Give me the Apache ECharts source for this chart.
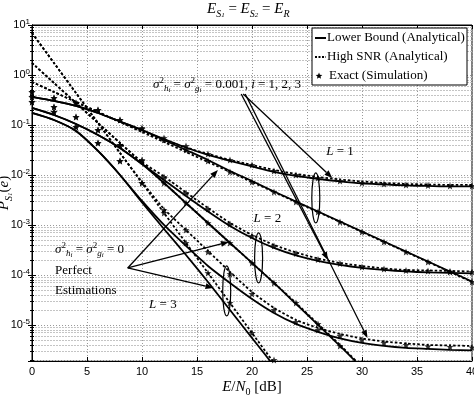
<!DOCTYPE html>
<html>
<head>
<meta charset="utf-8">
<script src="https://cdn.jsdelivr.net/npm/echarts@6/dist/echarts.min.js"></script>
<style>
  html, body { margin: 0; padding: 0; background: #fff; }
  #chart { width: 474px; height: 397px; }
</style>
</head>
<body>
<div id="chart"></div>
<script>
// E/N0 in dB, simulation points every 2 dB
const snr = [0, 2, 4, 6, 8, 10, 12, 14, 16, 18, 20, 22, 24, 26, 28, 30, 32, 34, 36, 38, 40];

// every curve below is log10 of P_S1(e)
// L = 1
const lb1Perfect   = [-0.44, -0.52, -0.62, -0.76, -0.93, -1.1, -1.3, -1.5, -1.7, -1.92, -2.12, -2.33, -2.53, -2.73, -2.93, -3.13, -3.33, -3.53, -3.73, -3.93, -4.13];
const lb1Imperfect = [-0.44, -0.52, -0.62, -0.76, -0.93, -1.1, -1.28, -1.45, -1.6, -1.72, -1.83, -1.94, -2.02, -2.08, -2.13, -2.17, -2.19, -2.21, -2.22, -2.23, -2.23];
const hs1Perfect   = [-0.14, -0.34, -0.54, -0.74, -0.94, -1.14, -1.34, -1.54, -1.74, -1.94, -2.14, -2.34, -2.54, -2.74, -2.94, -3.14, -3.34, -3.54, -3.74, -3.94, -4.14];
const hs1Imperfect = [-0.14, -0.34, -0.54, -0.74, -0.94, -1.13, -1.3, -1.45, -1.58, -1.7, -1.8, -1.9, -1.98, -2.04, -2.09, -2.13, -2.16, -2.18, -2.19, -2.2, -2.2];
const ex1Perfect   = [-0.34, -0.46, -0.56, -0.7, -0.9, -1.08, -1.3, -1.5, -1.72, -1.94, -2.14, -2.34, -2.54, -2.74, -2.94, -3.14, -3.34, -3.54, -3.74, -3.94, -4.14];
const ex1Imperfect = [-0.34, -0.46, -0.56, -0.7, -0.9, -1.06, -1.26, -1.42, -1.58, -1.7, -1.8, -1.92, -2.0, -2.06, -2.12, -2.16, -2.18, -2.2, -2.21, -2.22, -2.22];
// L = 2
const lb2Perfect   = [-0.66, -0.8, -0.98, -1.2, -1.46, -1.78, -2.16, -2.56, -2.96, -3.36, -3.76, -4.16, -4.58, -5.0, -5.42, -5.86];
const lb2Imperfect = [-0.66, -0.8, -0.98, -1.2, -1.46, -1.78, -2.1, -2.42, -2.73, -3.02, -3.26, -3.46, -3.61, -3.72, -3.8, -3.86, -3.9, -3.93, -3.95, -3.96, -3.97];
const hs2Perfect   = [0.24, -0.16, -0.56, -0.96, -1.36, -1.76, -2.16, -2.56, -2.96, -3.36, -3.76, -4.16, -4.56, -4.98, -5.4, -5.84];
const hs2Imperfect = [0.24, -0.16, -0.56, -0.96, -1.36, -1.74, -2.03, -2.35, -2.66, -2.96, -3.2, -3.4, -3.55, -3.67, -3.76, -3.82, -3.87, -3.9, -3.91, -3.92, -3.93];
const ex2Perfect   = [-0.44, -0.64, -0.84, -1.1, -1.4, -1.72, -2.16, -2.56, -2.96, -3.36, -3.76, -4.16, -4.56, -4.98, -5.42];
const ex2Imperfect = [-0.44, -0.64, -0.84, -1.1, -1.4, -1.7, -2.04, -2.36, -2.68, -2.98, -3.22, -3.42, -3.57, -3.69, -3.77, -3.84, -3.88, -3.91, -3.92, -3.93, -3.94];
// L = 3
const lb3Perfect   = [-0.76, -0.9, -1.12, -1.52, -2.0, -2.55, -3.08, -3.6, -4.14, -4.7, -5.26, -5.82];
const lb3Imperfect = [-0.76, -0.9, -1.12, -1.52, -2.0, -2.52, -3.0, -3.42, -3.82, -4.16, -4.48, -4.76, -4.98, -5.14, -5.27, -5.36, -5.42, -5.46, -5.48, -5.5, -5.51];
const hs3Perfect   = [0.84, 0.24, -0.36, -0.96, -1.56, -2.16, -2.76, -3.36, -3.96, -4.56, -5.16, -5.76];
const hs3Imperfect = [0.84, 0.24, -0.36, -0.96, -1.56, -2.14, -2.68, -3.1, -3.52, -3.94, -4.34, -4.66, -4.9, -5.06, -5.18, -5.27, -5.33, -5.37, -5.4, -5.41, -5.42];
const ex3Perfect   = [-0.54, -0.74, -1.04, -1.36, -1.72, -2.16, -2.76, -3.36, -3.96, -4.56, -5.16, -5.7];
const ex3Imperfect = [-0.54, -0.74, -1.04, -1.36, -1.72, -2.16, -2.7, -3.1, -3.54, -3.98, -4.38, -4.7, -4.94, -5.1, -5.22, -5.3, -5.36, -5.4, -5.43, -5.44, -5.45];

// axes
const xTicks = [0, 5, 10, 15, 20, 25, 30, 35, 40];
const yMin = 1.9e-6;
const yMax = 10;

// annotation anchors, [dB, log10 P]
const imperfectFrom = [19.2, -0.38];
const imperfectTips = [[27.3, -2.06], [26.9, -3.7], [30.5, -5.26]];
const perfectFrom = [8.7, -3.86];
const perfectTips = [[16.9, -1.9], [17.9, -3.34], [16.5, -4.26]];
const diversityRings = [[25.8, -2.46], [20.6, -3.66], [17.7, -4.32]];
const diversityLabels = [['1', 28.0, -1.54], ['2', 21.4, -2.88], ['3', 11.9, -4.6]];

const serif = 'Liberation Serif';
const sans = 'Liberation Sans';
const starPath = 'path://M0,-10L2.65,-3.64L9.51,-3.09L4.28,1.39L5.88,8.09L0,4.5L-5.88,8.09L-4.28,1.39L-9.51,-3.09L-2.65,-3.64Z';

const toP = v => Math.pow(10, v);
const pts = arr => arr.map((v, i) => [snr[i], toP(v)]);

const chart = echarts.init(document.getElementById('chart'));

// rich text pieces for the math labels
const mathRich = {
  m: { fontFamily: serif, fontStyle: 'italic', fontWeight: 'normal', fontSize: 13, lineHeight: 17, color: '#000' },
  r: { fontFamily: serif, fontWeight: 'normal', fontSize: 13, lineHeight: 17, color: '#000' },
  sp: { fontFamily: serif, fontWeight: 'normal', fontSize: 9, lineHeight: 10, verticalAlign: 'top', color: '#000' },
  sb: { fontFamily: serif, fontStyle: 'italic', fontWeight: 'normal', fontSize: 9, lineHeight: 10, verticalAlign: 'bottom', color: '#000' },
  ssb: { fontFamily: serif, fontStyle: 'italic', fontWeight: 'normal', fontSize: 7, lineHeight: 7, verticalAlign: 'bottom', color: '#000' },
  sbr: { fontFamily: serif, fontWeight: 'normal', fontSize: 9, lineHeight: 10, verticalAlign: 'bottom', color: '#000' }
};
// same pieces, a size up, for title and axis names
const bigRich = {
  m: Object.assign({}, mathRich.m, { fontSize: 15, lineHeight: 19 }),
  r: Object.assign({}, mathRich.r, { fontSize: 15, lineHeight: 19 }),
  sb: Object.assign({}, mathRich.sb, { fontSize: 10, lineHeight: 11 }),
  sbr: Object.assign({}, mathRich.sbr, { fontSize: 10, lineHeight: 11 }),
  ssb: mathRich.ssb
};

const solid = (data) => ({
  type: 'line',
  name: 'Lower Bound (Analytical)',
  data: pts(data),
  symbol: 'none',
  smooth: 0.2,
  lineStyle: { color: '#000', width: 1.8 },
  z: 3
});
const dashed = (data) => ({
  type: 'line',
  name: 'High SNR (Analytical)',
  data: pts(data),
  symbol: 'none',
  smooth: 0.2,
  lineStyle: { color: '#000', width: 1.8, type: [2.5, 2] },
  z: 4
});
const stars = (data) => ({
  type: 'scatter',
  name: 'Exact (Simulation)',
  data: pts(data),
  symbol: starPath,
  symbolSize: 7,
  itemStyle: { color: '#000' },
  z: 5
});

const gridLine = { show: true, lineStyle: { color: '#9a9a9a', width: 1, type: [1, 2] } };

chart.setOption({
  animation: false,
  backgroundColor: '#fff',
  title: {
    text: '{m|E}{sb|S}{ssb|1}{r| = }{m|E}{sb|S}{ssb|2}{r| = }{m|E}{sb|R}',
    left: 207,
    top: 0,
    padding: 0,
    textStyle: { fontWeight: 'normal', fontSize: 15, rich: bigRich }
  },
  grid: { left: 32, right: 2, top: 25, bottom: 36, outerBoundsMode: 'none', show: true, borderColor: '#000', borderWidth: 1 },
  xAxis: [{
    type: 'value',
    min: xTicks[0],
    max: xTicks[xTicks.length - 1],
    interval: 5,
    axisLine: { lineStyle: { color: '#000', width: 1 } },
    axisTick: { inside: true, length: 4, lineStyle: { color: '#000' } },
    axisLabel: { color: '#000', fontFamily: sans, fontSize: 11, margin: 5 },
    splitLine: gridLine,
    name: '{m|E}{r|/}{m|N}{sbr|0}{r| [dB]}',
    nameLocation: 'middle',
    nameGap: 17,
    nameMoveOverlap: false,
    nameTextStyle: { rich: bigRich, verticalAlign: 'top' }
  }, {
    type: 'value',
    position: 'top',
    min: xTicks[0],
    max: xTicks[xTicks.length - 1],
    interval: 5,
    axisLine: { lineStyle: { color: '#000', width: 1 } },
    axisTick: { inside: true, length: 4, lineStyle: { color: '#000' } },
    axisLabel: { show: false },
    splitLine: { show: false }
  }],
  yAxis: [{
    type: 'log',
    logBase: 10,
    min: yMin,
    max: yMax,
    axisLine: { show: true, lineStyle: { color: '#000', width: 1 } },
    axisTick: { show: true, inside: true, length: 4, lineStyle: { color: '#000' } },
    minorTick: { show: true, splitNumber: 9, length: 2, lineStyle: { color: '#000' } },
    splitLine: gridLine,
    minorSplitLine: { show: true, lineStyle: { color: '#c4c4c4', width: 1, type: [2, 1] } },
    axisLabel: {
      margin: 2,
      color: '#000',
      showMinLabel: false,
      formatter: (v) => {
        const e = Math.log10(v);
        const r = Math.round(e);
        if (Math.abs(e - r) > 1e-6) return '';
        return '{b|10}{e|' + r + '}';
      },
      rich: {
        b: { fontFamily: sans, fontSize: 11, lineHeight: 14, color: '#000' },
        e: { fontFamily: sans, fontSize: 8, lineHeight: 8, verticalAlign: 'top', color: '#000' }
      }
    },
    name: '{m|P}{sb|S}{ssb|1}{r|(}{m|e}{r|)}',
    nameLocation: 'middle',
    nameGap: 18,
    nameMoveOverlap: false,
    nameTextStyle: { rich: bigRich }
  }, {
    type: 'log',
    logBase: 10,
    min: yMin,
    max: yMax,
    position: 'right',
    axisLine: { show: true, lineStyle: { color: '#000', width: 1 } },
    axisTick: { show: true, inside: true, length: 4, lineStyle: { color: '#000' } },
    minorTick: { show: true, splitNumber: 9, length: 2, lineStyle: { color: '#000' } },
    axisLabel: { show: false },
    splitLine: { show: false }
  }],
  series: [
    solid(lb1Perfect), solid(lb1Imperfect), solid(lb2Perfect), solid(lb2Imperfect), solid(lb3Perfect), solid(lb3Imperfect),
    dashed(hs1Perfect), dashed(hs1Imperfect), dashed(hs2Perfect), dashed(hs2Imperfect), dashed(hs3Perfect), dashed(hs3Imperfect),
    stars(ex1Perfect), stars(ex1Imperfect), stars(ex2Perfect), stars(ex2Imperfect), stars(ex3Perfect), stars(ex3Imperfect)
  ]
});

// annotations, placed through the axes
const px = (p) => chart.convertToPixel({ xAxisIndex: 0, yAxisIndex: 0 }, [p[0], toP(p[1])]);

function arrow(from, to, dx) {
  const a = px(from), b = px(to);
  a[0] += dx || 0;
  const ang = Math.atan2(b[1] - a[1], b[0] - a[0]);
  const len = 8, half = 3;
  const bx = b[0] - len * Math.cos(ang), by = b[1] - len * Math.sin(ang);
  const nx = -Math.sin(ang) * half, ny = Math.cos(ang) * half;
  return [
    { type: 'line', silent: true, z: 10, shape: { x1: a[0], y1: a[1], x2: bx, y2: by }, style: { stroke: '#000', lineWidth: 1.3 } },
    { type: 'polygon', silent: true, z: 10, shape: { points: [[b[0], b[1]], [bx + nx, by + ny], [bx - nx, by - ny]] }, style: { fill: '#000' } }
  ];
}

function starPoints(cx, cy, r) {
  const out = [];
  for (let k = 0; k < 10; k++) {
    const a = -Math.PI / 2 + k * Math.PI / 5;
    const rr = k % 2 ? r * 0.45 : r;
    out.push([cx + rr * Math.cos(a), cy + rr * Math.sin(a)]);
  }
  return out;
}

const mathText = (text, pos, align) => ({
  type: 'text', silent: true, z: 12,
  x: pos[0], y: pos[1],
  style: { text: text, rich: mathRich, fill: '#000', font: '13px "Liberation Serif"', align: align || 'left', verticalAlign: 'middle' }
});

const elements = [];
imperfectTips.forEach((t, i) => elements.push(...arrow(imperfectFrom, t, i === 0 ? 0 : (i === 1 ? -2 : 2))));
perfectTips.forEach(t => elements.push(...arrow(perfectFrom, t)));
diversityRings.forEach(c => {
  const p = px(c);
  elements.push({ type: 'ellipse', silent: true, z: 10, shape: { cx: p[0], cy: p[1], rx: 4, ry: 25 }, style: { fill: 'none', stroke: '#000', lineWidth: 1.2 } });
});
diversityLabels.forEach(d => {
  elements.push(mathText('{m|L}{r| = ' + d[0] + '}', px([d[1], d[2]]), 'center'));
});
elements.push(mathText('{m|σ}{sp|2}{sb|h}{ssb|i}{r| = }{m|σ}{sp|2}{sb|g}{ssb|i}{r| = 0.001, }{m|i}{r| = 1, 2, 3}', px([11.0, -0.2])));
elements.push(mathText('{m|σ}{sp|2}{sb|h}{ssb|i}{r| = }{m|σ}{sp|2}{sb|g}{ssb|i}{r| = 0}', px([2.1, -3.5])));
elements.push(mathText('{r|Perfect}', px([2.1, -3.92])));
elements.push(mathText('{r|Estimations}', px([2.1, -4.32])));

// legend box
elements.push({ type: 'rect', silent: true, z: 20, shape: { x: 312, y: 28, width: 155, height: 57 }, style: { fill: '#fff', stroke: '#000', lineWidth: 1 } });
elements.push({ type: 'line', silent: true, z: 21, shape: { x1: 315, y1: 38, x2: 326, y2: 38 }, style: { stroke: '#000', lineWidth: 2 } });
elements.push({ type: 'line', silent: true, z: 21, shape: { x1: 315, y1: 57, x2: 326, y2: 57 }, style: { stroke: '#000', lineWidth: 2, lineDash: [2, 1.5] } });
elements.push({ type: 'polygon', silent: true, z: 21, shape: { points: starPoints(319, 76, 3.5) }, style: { fill: '#000' } });
[['Lower Bound (Analytical)', 327, 38], ['High SNR (Analytical)', 327, 57], ['Exact (Simulation)', 329, 76]].forEach(t => {
  elements.push({ type: 'text', silent: true, z: 21, x: t[1], y: t[2], style: { text: t[0], fill: '#000', font: '13px "Liberation Serif"', verticalAlign: 'middle' } });
});

chart.setOption({ graphic: { elements: elements } });
</script>
</body>
</html>
